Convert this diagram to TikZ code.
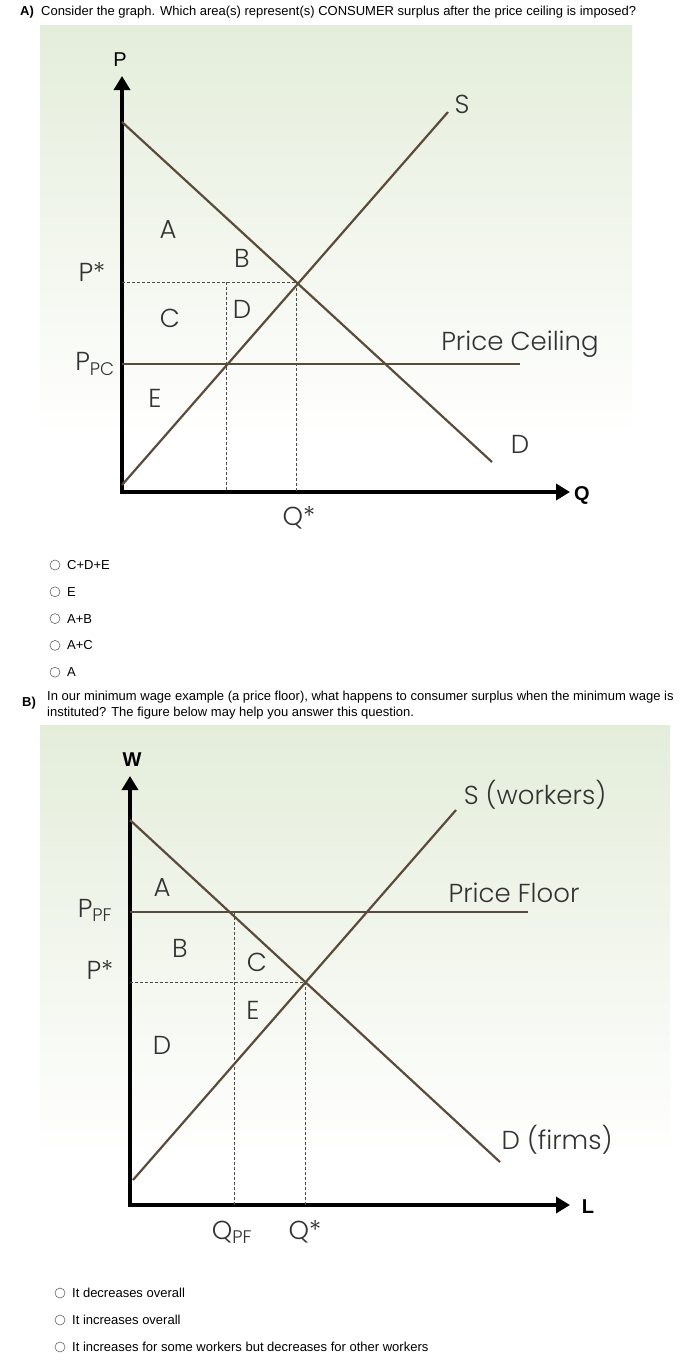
\documentclass[tikz,border=0pt]{standalone}
\usepackage{fontspec}
\setmainfont{Liberation Sans}
\newfontfamily\lbl{Poppins Light}
\usetikzlibrary{arrows.meta}
\definecolor{ln}{HTML}{5C4A3A}
\definecolor{bgg}{HTML}{E4EDDA}
\tikzset{
 curve/.style={ln,line width=2.2pt},
 axis/.style={black,line width=4.5pt,-{Triangle[length=14pt,width=16pt]}},
 dsh/.style={black!70,dashed,dash pattern=on 3pt off 2pt,line width=0.5pt},
 lab/.style={font=\lbl\fontsize{26}{26}\selectfont,text=black!80,inner sep=0pt},
 ax/.style={font=\fontsize{20}{20}\selectfont\bfseries,inner sep=0pt},
 q/.style={font=\fontsize{13}{15}\selectfont,anchor=west,inner sep=0pt},
 radio/.style={draw=black!60,circle,minimum size=10pt,inner sep=0pt,line width=0.6pt}
}
\begin{document}
\begin{tikzpicture}[x=1pt,y=-1pt]
\useasboundingbox (0,0) rectangle (682,1369);
\fill[white] (0,0) rectangle (682,1369);
% --- A
\node[q] (qa) at (20,12) {\textbf{A)}\ \ Consider the graph. Which area(s) represent(s) CONSUMER surplus after the price ceiling is imposed?};
\shade[top color=bgg,bottom color=white] (40,25) rectangle (632,440);
\coordinate (oA) at (122,492);
\coordinate (pA) at (122,76);
\coordinate (qA) at (570,492);
\draw[axis] (oA) -- (pA);
\draw[axis] ([xshift=-2pt]oA) -- (qA);
\node[ax,font=\fontsize{20}{20}\selectfont] (P) at (120,60) {P};
\node[ax] (Q) at (582,495) {Q};
\coordinate (d1) at (122,122); \coordinate (d2) at (492,462);
\coordinate (s1) at (122,485); \coordinate (s2) at (448,112);
\coordinate (eA) at (296,282);
\coordinate (pc1) at (122,364); \coordinate (pc2) at (520,364);
\draw[dsh] (122,282) -- (eA) -- (296,492);
\draw[dsh] (226,282) -- (226,492);
\draw[curve] (d1) -- (d2);
\draw[curve] (s1) -- (s2);
\draw[curve] (pc1) -- (pc2);
\node[lab] (la) at (168,230) {A};
\node[lab] (lb) at (242,258) {B};
\node[lab] (lc) at (170,318) {C};
\node[lab] (ld) at (242,309) {D};
\node[lab] (le) at (155,398) {E};
\node[lab] (ps) at (92,272) {P*};
\node[lab] (ppc) at (95,364) {P\textsubscript{PC}};
\node[lab] (pcl) at (520,344) {Price Ceiling};
\node[lab] (dl) at (520,444) {D};
\node[lab] (sl) at (462,104) {S};
\node[lab] (qs) at (299,518) {Q*};
\foreach \t [count=\i] in {C+D+E,E,A+B,A+C,A}{
 \node[radio] (ra\i) at (55,{565+26.8*(\i-1)}) {};
 \node[q] (ta\i) at (67,{565+26.8*(\i-1)}) {\t};
}
% --- B
\node[q] (qb) at (22,703) {\textbf{B)}};
\node[q] (qb1) at (47,697) {In our minimum wage example (a price floor), what happens to consumer surplus when the minimum wage is};
\node[q] (qb2) at (47,713) {instituted? The figure below may help you answer this question.};
\shade[top color=bgg,bottom color=white] (40,725) rectangle (670,1160);
\coordinate (oB) at (130,1205);
\coordinate (wB) at (130,776);
\coordinate (lB) at (570,1205);
\draw[axis] (oB) -- (wB);
\draw[axis] ([xshift=-2pt]oB) -- (lB);
\node[ax] (W) at (132,760) {W};
\node[ax] (L) at (588,1207) {L};
\coordinate (e1) at (130,820); \coordinate (e2) at (500,1162);
\coordinate (t1) at (133,1180); \coordinate (t2) at (456,810);
\coordinate (eB) at (305,982);
\coordinate (pf1) at (130,912); \coordinate (pf2) at (528,912);
\draw[dsh] (130,982) -- (eB) -- (305,1205);
\draw[dsh] (234,912) -- (234,1205);
\draw[curve] (e1) -- (e2);
\draw[curve] (t1) -- (t2);
\draw[curve] (pf1) -- (pf2);
\node[lab] (ba) at (162,888) {A};
\node[lab] (bb) at (180,948) {B};
\node[lab] (bc) at (257,962) {C};
\node[lab] (be) at (253,1010) {E};
\node[lab] (bd) at (162,1045) {D};
\node[lab] (ppf) at (95,910) {P\textsubscript{PF}};
\node[lab] (bps) at (100,970) {P*};
\node[lab] (swk) at (535,795) {S (workers)};
\node[lab] (pfl) at (514,893) {Price Floor};
\node[lab] (dfm) at (557,1140) {D (firms)};
\node[lab] (qpf) at (232,1232) {Q\textsubscript{PF}};
\node[lab] (bqs) at (305,1232) {Q*};
\foreach \t [count=\i] in {It decreases overall,It increases overall,It increases for some workers but decreases for other workers}{
 \node[radio] (rb\i) at (60,{1293+27*(\i-1)}) {};
 \node[q] (tb\i) at (72,{1293+27*(\i-1)}) {\t};
}
\end{tikzpicture}
\end{document}
